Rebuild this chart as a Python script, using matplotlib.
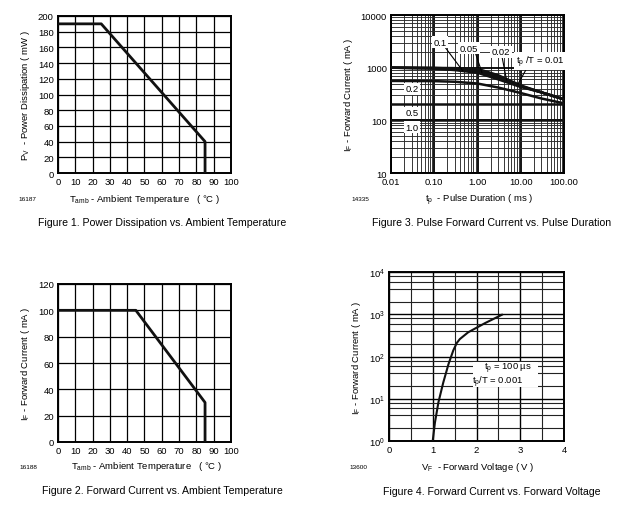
import numpy as np
import matplotlib
matplotlib.use('Agg')
import matplotlib.pyplot as plt
from matplotlib.ticker import LogLocator, FixedLocator, NullFormatter, MultipleLocator

plt.rcParams['font.family'] = ['Liberation Sans', 'DejaVu Sans']
plt.rcParams['mathtext.fontset'] = 'custom'
plt.rcParams['mathtext.rm'] = 'Liberation Sans'
plt.rcParams['mathtext.it'] = 'Liberation Sans:italic'
plt.rcParams['mathtext.bf'] = 'Liberation Sans:bold'

# Figure 1: power dissipation derating
temp_pv = [0, 25, 85, 85]
pv = [190, 190, 40, 0]

# Figure 2: forward current derating
temp_if = [0, 45, 85, 85]
if_derate = [100, 100, 30, 0]

# Figure 3: pulse forward current vs pulse duration
tp_ms = [0.01, 0.1, 0.3, 1, 3, 10, 30, 100]
if_001 = [1000, 990, 980, 950, 720, 460, 340, 250]
if_002 = [1000, 985, 960, 900, 680, 450, 340, 250]
if_005 = [1000, 975, 930, 850, 640, 440, 340, 250]
if_01 = [1000, 960, 900, 800, 600, 430, 340, 250]
if_02 = [560, 555, 540, 500, 420, 330, 260, 210]
if_05 = [200, 200, 200, 200, 200, 200, 200, 200]
if_10 = [100, 100, 100, 100, 100, 100, 100, 100]

# Figure 4: forward current vs forward voltage
vf = [1.0, 1.05, 1.13, 1.24, 1.36, 1.47, 1.55, 1.62, 1.81, 2.19, 2.58]
if_vf = [1, 2.7, 8.2, 24, 66, 140, 210, 260, 376, 617, 980]

TICK = 6.8
LAB = 6.8
CAP = 7.6
W = 628
H = 506


def rect(x0, y0, x1, y1):
    return [x0 / W, 1 - y1 / H, (x1 - x0) / W, (y1 - y0) / H]


def style(ax):
    for s in ax.spines.values():
        s.set_linewidth(1.4)
        s.set_color('black')
    ax.tick_params(which='both', length=0, labelsize=TICK, pad=3)


fig = plt.figure(figsize=(6.28, 5.06), dpi=100)

# ---- Figure 1
ax1 = fig.add_axes(rect(58, 17, 231, 174))
ax1.plot(temp_pv, pv, color='#111111', lw=2.0, solid_capstyle='butt', zorder=3)
ax1.set_xlim(0, 100)
ax1.set_ylim(0, 200)
ax1.xaxis.set_major_locator(MultipleLocator(10))
ax1.yaxis.set_major_locator(MultipleLocator(20))
ax1.grid(True, color='black', lw=0.9)
style(ax1)
ax1.set_ylabel(r'P$_\mathregular{V}$  - Power Dissipation ( mW )', fontsize=LAB, labelpad=4)

# ---- Figure 2
ax2 = fig.add_axes(rect(58, 285, 231, 443))
ax2.plot(temp_if, if_derate, color='#111111', lw=2.0, solid_capstyle='butt', zorder=3)
ax2.set_xlim(0, 100)
ax2.set_ylim(0, 120)
ax2.xaxis.set_major_locator(MultipleLocator(10))
ax2.yaxis.set_major_locator(MultipleLocator(20))
ax2.grid(True, color='black', lw=0.9)
style(ax2)
ax2.set_ylabel(r'I$_\mathregular{F}$ - Forward Current ( mA )', fontsize=LAB, labelpad=4)

# ---- Figure 3
ax3 = fig.add_axes(rect(391, 16, 564, 174))
for ys in [if_001, if_002, if_005, if_01, if_02, if_05, if_10]:
    ax3.plot(tp_ms, ys, color='#111111', lw=1.8, zorder=3)
ax3.set_xscale('log')
ax3.set_yscale('log')
ax3.set_xlim(0.01, 100)
ax3.set_ylim(10, 10000)
ax3.xaxis.set_major_locator(FixedLocator([0.01, 0.1, 1, 10, 100]))
ax3.set_xticklabels(['0.01', '0.10', '1.00', '10.00', '100.00'])
ax3.yaxis.set_major_locator(FixedLocator([10, 100, 1000, 10000]))
ax3.set_yticklabels(['10', '100', '1000', '10000'])
ax3.xaxis.set_minor_locator(LogLocator(base=10, subs=np.arange(2, 10), numticks=20))
ax3.yaxis.set_minor_locator(LogLocator(base=10, subs=np.arange(2, 10), numticks=20))
ax3.xaxis.set_minor_formatter(NullFormatter())
ax3.yaxis.set_minor_formatter(NullFormatter())
ax3.grid(True, which='major', color='black', lw=1.3)
ax3.grid(True, which='minor', color='#2a2a2a', lw=0.65)
style(ax3)
ax3.set_ylabel(r'I$_\mathregular{F}$ - Forward Current ( mA )', fontsize=LAB, labelpad=4)


def on_curve(t, ys):
    return 10 ** np.interp(np.log10(t), np.log10(tp_ms), np.log10(ys))


box = dict(facecolor='white', edgecolor='none', pad=1.2)
leaders = [
    (r'0.1', (0.283, 0.829), (0.312, 0.797), 0.46, if_01),
    (r'0.05', (0.451, 0.79), (0.486, 0.766), 1.27, if_005),
    (r'0.02', (0.636, 0.766), (0.642, 0.734), 4.7, if_002),
    (r't$_\mathregular{p}$ /T = 0.01', (0.861, 0.709), (0.792, 0.677), 8.6, if_001),
]
for txt, pos, start, t_end, ys in leaders:
    ax3.annotate('', xy=(t_end, on_curve(t_end, ys)), xycoords='data',
                 xytext=start, textcoords='axes fraction',
                 arrowprops=dict(arrowstyle='-', lw=0.8, color='black',
                                 shrinkA=0, shrinkB=0), zorder=5)
    ax3.text(pos[0], pos[1], txt, transform=ax3.transAxes, fontsize=TICK,
             ha='center', va='center', bbox=box, zorder=6)
for txt, yf in [('0.2', 0.532), ('0.5', 0.38), ('1.0', 0.291)]:
    ax3.text(0.121, yf, txt, transform=ax3.transAxes, fontsize=TICK,
             ha='center', va='center', bbox=dict(facecolor='white', edgecolor='none', pad=0.8), zorder=6)

# ---- Figure 4
ax4 = fig.add_axes(rect(389, 273.3, 564, 441.7))
ax4.plot(vf, if_vf, color='#111111', lw=1.5, zorder=3)
ax4.set_yscale('log')
ax4.set_xlim(0, 4)
ax4.set_ylim(1, 10000)
ax4.xaxis.set_major_locator(MultipleLocator(1))
ax4.xaxis.set_minor_locator(MultipleLocator(0.5))
ax4.yaxis.set_major_locator(FixedLocator([1, 10, 100, 1000, 10000]))
ax4.set_yticklabels([r'10$^\mathregular{0}$', r'10$^\mathregular{1}$', r'10$^\mathregular{2}$',
                     r'10$^\mathregular{3}$', r'10$^\mathregular{4}$'])
ax4.yaxis.set_minor_locator(LogLocator(base=10, subs=[2, 4, 6, 8], numticks=20))
ax4.yaxis.set_minor_formatter(NullFormatter())
ax4.grid(True, which='major', color='black', lw=1.0)
ax4.grid(True, which='minor', color='#222222', lw=0.8)
style(ax4)
ax4.set_ylabel(r'I$_\mathregular{F}$ - Forward Current ( mA )', fontsize=LAB, labelpad=4)
ax4.add_patch(plt.Rectangle((0.48, 0.32), 0.37, 0.15, transform=ax4.transAxes,
                            facecolor='white', edgecolor='none', zorder=4))
ax4.text(0.68, 0.432, r't$_\mathregular{p}$ = 100 µs', transform=ax4.transAxes,
         fontsize=TICK, ha='center', va='center', zorder=6)
ax4.text(0.623, 0.349, r't$_\mathregular{p}$/T = 0.001', transform=ax4.transAxes,
         fontsize=TICK, ha='center', va='center', zorder=6)

# ---- axis titles, figure ids and captions
fig.text(145 / W, 1 - 200 / H, r'T$_\mathregular{amb}$ - Ambient Temperature   ( °C )',
         fontsize=LAB, ha='center', va='center')
fig.text(146.5 / W, 1 - 467 / H, r'T$_\mathregular{amb}$ - Ambient Temperature   ( °C )',
         fontsize=LAB, ha='center', va='center')
fig.text(479 / W, 1 - 200 / H, r't$_\mathregular{p}$  - Pulse Duration ( ms )',
         fontsize=LAB, ha='center', va='center')
fig.text(478 / W, 1 - 468 / H, r'V$_\mathregular{F}$  - Forward Voltage ( V )',
         fontsize=LAB, ha='center', va='center')

for txt, x, y in [('16187', 27.5, 200), ('16188', 28.5, 468), ('14335', 360, 200), ('13600', 358.5, 468)]:
    fig.text(x / W, 1 - y / H, txt, fontsize=4.6, ha='center', va='center')

caps = [('Figure 1. Power Dissipation vs. Ambient Temperature', 162, 223),
        ('Figure 3. Pulse Forward Current vs. Pulse Duration', 492, 223),
        ('Figure 2. Forward Current vs. Ambient Temperature', 162.5, 491),
        ('Figure 4. Forward Current vs. Forward Voltage', 492, 492)]
for txt, x, y in caps:
    fig.text(x / W, 1 - y / H, txt, fontsize=CAP, ha='center', va='center')

fig.savefig('out.png', dpi=100)
